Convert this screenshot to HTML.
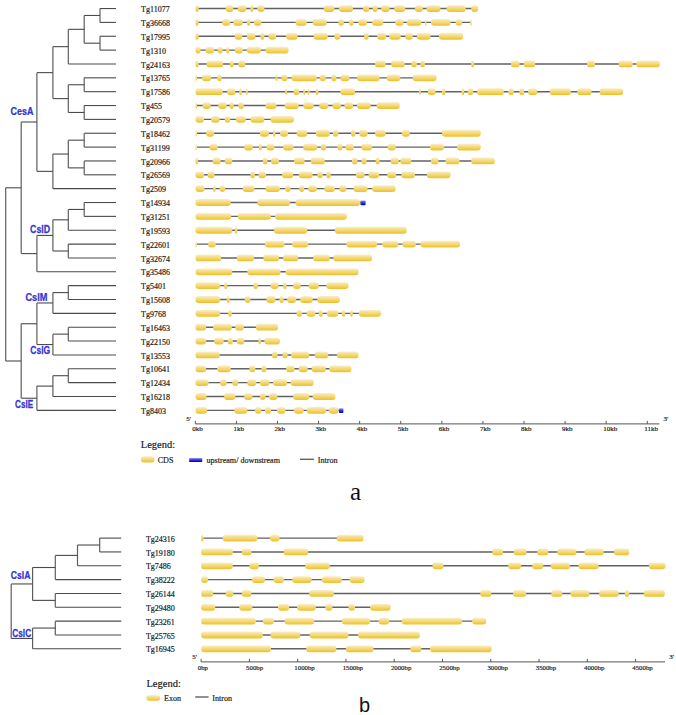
<!DOCTYPE html>
<html><head><meta charset="utf-8"><title>Gene structure</title>
<style>
html,body{margin:0;padding:0;background:#fff;}
body{width:676px;height:715px;overflow:hidden;position:relative;}
svg{position:absolute;left:0;top:0;}
.in{stroke:#626262;stroke-width:1.4;}
.th{stroke:#4a4a4a;stroke-width:1.1;}
.tv{stroke:#5e5e5e;stroke-width:1.2;}
.ax{stroke:#555;stroke-width:1;}
text{font-family:"Liberation Serif",serif;fill:#1a1a1a;stroke:#1a1a1a;stroke-width:0.18px;}
.lab{font-size:8px;}
.tick{font-size:7px;}
.tickb{font-size:6.8px;}
.prime{font-size:7px;}
.leg{font-size:10.5px;fill:#222;}
.legi{font-size:8.1px;}
.clade{font-family:"Liberation Sans",sans-serif;font-weight:bold;font-size:10.2px;fill:#3434d4;stroke:#3434d4;stroke-width:0.25px;}
.panel{font-size:25px;fill:#111;stroke:none;}
.panelb{font-family:"Liberation Sans",sans-serif;font-size:20px;fill:#111;stroke:none;}
</style></head>
<body>
<svg width="676" height="715" viewBox="0 0 676 715">
<defs>
<linearGradient id="ex" x1="0" y1="0" x2="0" y2="1">
<stop offset="0" stop-color="#fbefcb"/>
<stop offset="0.3" stop-color="#f5e096"/>
<stop offset="0.55" stop-color="#f4d770"/>
<stop offset="0.8" stop-color="#f1c940"/>
<stop offset="1" stop-color="#eec22a"/>
</linearGradient>
<linearGradient id="bl" x1="0" y1="0" x2="0" y2="1">
<stop offset="0" stop-color="#9a9af5"/>
<stop offset="0.5" stop-color="#3030dd"/>
<stop offset="1" stop-color="#0000b8"/>
</linearGradient>
</defs>
<line x1="100" y1="8.55" x2="116" y2="8.55" class="th"/>
<line x1="100" y1="22.41" x2="116" y2="22.41" class="th"/>
<line x1="100" y1="8.55" x2="100" y2="22.41" class="tv"/>
<line x1="84.2" y1="15.48" x2="100" y2="15.48" class="th"/>
<line x1="100" y1="36.26" x2="116" y2="36.26" class="th"/>
<line x1="100" y1="50.11" x2="116" y2="50.11" class="th"/>
<line x1="100" y1="36.26" x2="100" y2="50.11" class="tv"/>
<line x1="84.2" y1="43.19" x2="100" y2="43.19" class="th"/>
<line x1="84.2" y1="15.48" x2="84.2" y2="43.19" class="tv"/>
<line x1="68.3" y1="29.33" x2="84.2" y2="29.33" class="th"/>
<line x1="68.3" y1="63.97" x2="116" y2="63.97" class="th"/>
<line x1="68.3" y1="29.33" x2="68.3" y2="63.97" class="tv"/>
<line x1="52.9" y1="46.65" x2="68.3" y2="46.65" class="th"/>
<line x1="84.2" y1="77.83" x2="116" y2="77.83" class="th"/>
<line x1="84.2" y1="91.68" x2="116" y2="91.68" class="th"/>
<line x1="84.2" y1="77.83" x2="84.2" y2="91.68" class="tv"/>
<line x1="68.3" y1="84.75" x2="84.2" y2="84.75" class="th"/>
<line x1="84.2" y1="105.53" x2="116" y2="105.53" class="th"/>
<line x1="84.2" y1="119.39" x2="116" y2="119.39" class="th"/>
<line x1="84.2" y1="105.53" x2="84.2" y2="119.39" class="tv"/>
<line x1="68.3" y1="112.46" x2="84.2" y2="112.46" class="th"/>
<line x1="68.3" y1="84.75" x2="68.3" y2="112.46" class="tv"/>
<line x1="52.9" y1="98.61" x2="68.3" y2="98.61" class="th"/>
<line x1="52.9" y1="46.65" x2="52.9" y2="98.61" class="tv"/>
<line x1="36.9" y1="72.63" x2="52.9" y2="72.63" class="th"/>
<line x1="84.2" y1="133.25" x2="116" y2="133.25" class="th"/>
<line x1="84.2" y1="147.1" x2="116" y2="147.1" class="th"/>
<line x1="84.2" y1="133.25" x2="84.2" y2="147.1" class="tv"/>
<line x1="68.3" y1="140.17" x2="84.2" y2="140.17" class="th"/>
<line x1="84.2" y1="160.96" x2="116" y2="160.96" class="th"/>
<line x1="84.2" y1="174.81" x2="116" y2="174.81" class="th"/>
<line x1="84.2" y1="160.96" x2="84.2" y2="174.81" class="tv"/>
<line x1="68.3" y1="167.88" x2="84.2" y2="167.88" class="th"/>
<line x1="68.3" y1="140.17" x2="68.3" y2="167.88" class="tv"/>
<line x1="52.9" y1="154.03" x2="68.3" y2="154.03" class="th"/>
<line x1="52.9" y1="188.67" x2="116" y2="188.67" class="th"/>
<line x1="52.9" y1="154.03" x2="52.9" y2="188.67" class="tv"/>
<line x1="36.9" y1="171.35" x2="52.9" y2="171.35" class="th"/>
<line x1="36.9" y1="72.63" x2="36.9" y2="171.35" class="tv"/>
<line x1="21.2" y1="121.99" x2="36.9" y2="121.99" class="th"/>
<line x1="84.2" y1="202.52" x2="116" y2="202.52" class="th"/>
<line x1="84.2" y1="216.38" x2="116" y2="216.38" class="th"/>
<line x1="84.2" y1="202.52" x2="84.2" y2="216.38" class="tv"/>
<line x1="68.3" y1="209.45" x2="84.2" y2="209.45" class="th"/>
<line x1="68.3" y1="230.23" x2="116" y2="230.23" class="th"/>
<line x1="68.3" y1="209.45" x2="68.3" y2="230.23" class="tv"/>
<line x1="52.9" y1="219.84" x2="68.3" y2="219.84" class="th"/>
<line x1="68.3" y1="244.09" x2="116" y2="244.09" class="th"/>
<line x1="68.3" y1="257.94" x2="116" y2="257.94" class="th"/>
<line x1="68.3" y1="244.09" x2="68.3" y2="257.94" class="tv"/>
<line x1="52.9" y1="251.01" x2="68.3" y2="251.01" class="th"/>
<line x1="52.9" y1="219.84" x2="52.9" y2="251.01" class="tv"/>
<line x1="36.9" y1="235.43" x2="52.9" y2="235.43" class="th"/>
<line x1="36.9" y1="271.8" x2="116" y2="271.8" class="th"/>
<line x1="36.9" y1="235.43" x2="36.9" y2="271.8" class="tv"/>
<line x1="21.2" y1="253.61" x2="36.9" y2="253.61" class="th"/>
<line x1="21.2" y1="121.99" x2="21.2" y2="253.61" class="tv"/>
<line x1="5.7" y1="187.8" x2="21.2" y2="187.8" class="th"/>
<line x1="68.3" y1="285.65" x2="116" y2="285.65" class="th"/>
<line x1="68.3" y1="299.5" x2="116" y2="299.5" class="th"/>
<line x1="68.3" y1="285.65" x2="68.3" y2="299.5" class="tv"/>
<line x1="52.9" y1="292.58" x2="68.3" y2="292.58" class="th"/>
<line x1="52.9" y1="313.36" x2="116" y2="313.36" class="th"/>
<line x1="52.9" y1="292.58" x2="52.9" y2="313.36" class="tv"/>
<line x1="36.9" y1="302.97" x2="52.9" y2="302.97" class="th"/>
<line x1="68.3" y1="327.22" x2="116" y2="327.22" class="th"/>
<line x1="68.3" y1="341.07" x2="116" y2="341.07" class="th"/>
<line x1="68.3" y1="327.22" x2="68.3" y2="341.07" class="tv"/>
<line x1="52.9" y1="334.14" x2="68.3" y2="334.14" class="th"/>
<line x1="52.9" y1="354.93" x2="116" y2="354.93" class="th"/>
<line x1="52.9" y1="334.14" x2="52.9" y2="354.93" class="tv"/>
<line x1="36.9" y1="344.53" x2="52.9" y2="344.53" class="th"/>
<line x1="36.9" y1="302.97" x2="36.9" y2="344.53" class="tv"/>
<line x1="21.2" y1="323.75" x2="36.9" y2="323.75" class="th"/>
<line x1="68.3" y1="368.78" x2="116" y2="368.78" class="th"/>
<line x1="68.3" y1="382.64" x2="116" y2="382.64" class="th"/>
<line x1="68.3" y1="368.78" x2="68.3" y2="382.64" class="tv"/>
<line x1="52.9" y1="375.71" x2="68.3" y2="375.71" class="th"/>
<line x1="52.9" y1="396.49" x2="116" y2="396.49" class="th"/>
<line x1="52.9" y1="375.71" x2="52.9" y2="396.49" class="tv"/>
<line x1="36.9" y1="386.1" x2="52.9" y2="386.1" class="th"/>
<line x1="36.9" y1="410.35" x2="116" y2="410.35" class="th"/>
<line x1="36.9" y1="386.1" x2="36.9" y2="410.35" class="tv"/>
<line x1="21.2" y1="398.22" x2="36.9" y2="398.22" class="th"/>
<line x1="21.2" y1="323.75" x2="21.2" y2="398.22" class="tv"/>
<line x1="5.7" y1="360.99" x2="21.2" y2="360.99" class="th"/>
<line x1="5.7" y1="187.8" x2="5.7" y2="360.99" class="tv"/>
<line x1="99.7" y1="538.1" x2="121.2" y2="538.1" class="th"/>
<line x1="99.7" y1="551.94" x2="121.2" y2="551.94" class="th"/>
<line x1="99.7" y1="538.1" x2="99.7" y2="551.94" class="tv"/>
<line x1="77.5" y1="545.02" x2="99.7" y2="545.02" class="th"/>
<line x1="77.5" y1="565.78" x2="121.2" y2="565.78" class="th"/>
<line x1="77.5" y1="545.02" x2="77.5" y2="565.78" class="tv"/>
<line x1="55.3" y1="555.4" x2="77.5" y2="555.4" class="th"/>
<line x1="55.3" y1="579.62" x2="121.2" y2="579.62" class="th"/>
<line x1="55.3" y1="555.4" x2="55.3" y2="579.62" class="tv"/>
<line x1="32.6" y1="567.51" x2="55.3" y2="567.51" class="th"/>
<line x1="55.3" y1="593.46" x2="121.2" y2="593.46" class="th"/>
<line x1="55.3" y1="607.3" x2="121.2" y2="607.3" class="th"/>
<line x1="55.3" y1="593.46" x2="55.3" y2="607.3" class="tv"/>
<line x1="32.6" y1="600.38" x2="55.3" y2="600.38" class="th"/>
<line x1="32.6" y1="567.51" x2="32.6" y2="600.38" class="tv"/>
<line x1="11.2" y1="583.95" x2="32.6" y2="583.95" class="th"/>
<line x1="55.3" y1="621.14" x2="121.2" y2="621.14" class="th"/>
<line x1="55.3" y1="634.98" x2="121.2" y2="634.98" class="th"/>
<line x1="55.3" y1="621.14" x2="55.3" y2="634.98" class="tv"/>
<line x1="32.6" y1="628.06" x2="55.3" y2="628.06" class="th"/>
<line x1="32.6" y1="648.82" x2="121.2" y2="648.82" class="th"/>
<line x1="32.6" y1="628.06" x2="32.6" y2="648.82" class="tv"/>
<line x1="11.2" y1="638.44" x2="32.6" y2="638.44" class="th"/>
<line x1="11.2" y1="583.95" x2="11.2" y2="638.44" class="tv"/>
<line x1="197" y1="8.55" x2="476.7" y2="8.55" class="in"/>
<rect x="195.5" y="5.15" width="3.1" height="6.8" rx="1.55" ry="3.2" fill="url(#ex)"/>
<rect x="225.7" y="5.15" width="7.6" height="6.8" rx="3.2" ry="3.2" fill="url(#ex)"/>
<rect x="237.8" y="5.15" width="8.5" height="6.8" rx="3.2" ry="3.2" fill="url(#ex)"/>
<rect x="250.4" y="5.15" width="3" height="6.8" rx="1.5" ry="3.2" fill="url(#ex)"/>
<rect x="257.4" y="5.15" width="7" height="6.8" rx="3.2" ry="3.2" fill="url(#ex)"/>
<rect x="323.8" y="5.15" width="10.6" height="6.8" rx="3.2" ry="3.2" fill="url(#ex)"/>
<rect x="338.9" y="5.15" width="14.1" height="6.8" rx="3.2" ry="3.2" fill="url(#ex)"/>
<rect x="363" y="5.15" width="6.1" height="6.8" rx="3.05" ry="3.2" fill="url(#ex)"/>
<rect x="372.6" y="5.15" width="5" height="6.8" rx="2.5" ry="3.2" fill="url(#ex)"/>
<rect x="381.2" y="5.15" width="8.5" height="6.8" rx="3.2" ry="3.2" fill="url(#ex)"/>
<rect x="394.2" y="5.15" width="11.1" height="6.8" rx="3.2" ry="3.2" fill="url(#ex)"/>
<rect x="414.9" y="5.15" width="8" height="6.8" rx="3.2" ry="3.2" fill="url(#ex)"/>
<rect x="426.4" y="5.15" width="14.1" height="6.8" rx="3.2" ry="3.2" fill="url(#ex)"/>
<rect x="446.5" y="5.15" width="19.2" height="6.8" rx="3.2" ry="3.2" fill="url(#ex)"/>
<rect x="471.2" y="5.15" width="7" height="6.8" rx="3.2" ry="3.2" fill="url(#ex)"/>
<text x="141.1" y="12.15" class="lab">Tg11077</text>
<line x1="197" y1="22.41" x2="470.2" y2="22.41" class="in"/>
<rect x="195.5" y="19.01" width="3.1" height="6.8" rx="1.55" ry="3.2" fill="url(#ex)"/>
<rect x="222.2" y="19.01" width="8" height="6.8" rx="3.2" ry="3.2" fill="url(#ex)"/>
<rect x="233.3" y="19.01" width="9.5" height="6.8" rx="3.2" ry="3.2" fill="url(#ex)"/>
<rect x="246.8" y="19.01" width="3.6" height="6.8" rx="1.8" ry="3.2" fill="url(#ex)"/>
<rect x="253.9" y="19.01" width="7.5" height="6.8" rx="3.2" ry="3.2" fill="url(#ex)"/>
<rect x="295.6" y="19.01" width="11.1" height="6.8" rx="3.2" ry="3.2" fill="url(#ex)"/>
<rect x="312.7" y="19.01" width="14.1" height="6.8" rx="3.2" ry="3.2" fill="url(#ex)"/>
<rect x="338.4" y="19.01" width="5.5" height="6.8" rx="2.75" ry="3.2" fill="url(#ex)"/>
<rect x="349" y="19.01" width="4.5" height="6.8" rx="2.25" ry="3.2" fill="url(#ex)"/>
<rect x="358.3" y="19.01" width="8.8" height="6.8" rx="3.2" ry="3.2" fill="url(#ex)"/>
<rect x="372.1" y="19.01" width="11.1" height="6.8" rx="3.2" ry="3.2" fill="url(#ex)"/>
<rect x="395.2" y="19.01" width="8.1" height="6.8" rx="3.2" ry="3.2" fill="url(#ex)"/>
<rect x="406.8" y="19.01" width="14.6" height="6.8" rx="3.2" ry="3.2" fill="url(#ex)"/>
<rect x="424.9" y="19.01" width="1.5" height="6.8" rx="0.75" ry="3.2" fill="url(#ex)"/>
<rect x="431" y="19.01" width="19.6" height="6.8" rx="3.2" ry="3.2" fill="url(#ex)"/>
<rect x="455.6" y="19.01" width="6.5" height="6.8" rx="3.2" ry="3.2" fill="url(#ex)"/>
<rect x="470.2" y="19.01" width="1.5" height="6.8" rx="0.75" ry="3.2" fill="url(#ex)"/>
<text x="141.1" y="26.01" class="lab">Tg36668</text>
<line x1="197" y1="36.26" x2="461.6" y2="36.26" class="in"/>
<rect x="195.5" y="32.86" width="3.1" height="6.8" rx="1.55" ry="3.2" fill="url(#ex)"/>
<rect x="234.8" y="32.86" width="7.5" height="6.8" rx="3.2" ry="3.2" fill="url(#ex)"/>
<rect x="246.8" y="32.86" width="8.6" height="6.8" rx="3.2" ry="3.2" fill="url(#ex)"/>
<rect x="260.4" y="32.86" width="4" height="6.8" rx="2" ry="3.2" fill="url(#ex)"/>
<rect x="268.5" y="32.86" width="7.5" height="6.8" rx="3.2" ry="3.2" fill="url(#ex)"/>
<rect x="286.1" y="32.86" width="11.5" height="6.8" rx="3.2" ry="3.2" fill="url(#ex)"/>
<rect x="313.7" y="32.86" width="14.1" height="6.8" rx="3.2" ry="3.2" fill="url(#ex)"/>
<rect x="334.4" y="32.86" width="6" height="6.8" rx="3" ry="3.2" fill="url(#ex)"/>
<rect x="364.1" y="32.86" width="4.5" height="6.8" rx="2.25" ry="3.2" fill="url(#ex)"/>
<rect x="377.1" y="32.86" width="9.1" height="6.8" rx="3.2" ry="3.2" fill="url(#ex)"/>
<rect x="389.2" y="32.86" width="11.6" height="6.8" rx="3.2" ry="3.2" fill="url(#ex)"/>
<rect x="405.3" y="32.86" width="7.5" height="6.8" rx="3.2" ry="3.2" fill="url(#ex)"/>
<rect x="416.9" y="32.86" width="13.6" height="6.8" rx="3.2" ry="3.2" fill="url(#ex)"/>
<rect x="439" y="32.86" width="24.1" height="6.8" rx="3.2" ry="3.2" fill="url(#ex)"/>
<text x="141.1" y="39.86" class="lab">Tg17995</text>
<line x1="197" y1="50.11" x2="287.1" y2="50.11" class="in"/>
<rect x="195.5" y="46.71" width="5.1" height="6.8" rx="2.55" ry="3.2" fill="url(#ex)"/>
<rect x="205.6" y="46.71" width="8.5" height="6.8" rx="3.2" ry="3.2" fill="url(#ex)"/>
<rect x="217.7" y="46.71" width="5" height="6.8" rx="2.5" ry="3.2" fill="url(#ex)"/>
<rect x="226.2" y="46.71" width="3" height="6.8" rx="1.5" ry="3.2" fill="url(#ex)"/>
<rect x="234.8" y="46.71" width="8" height="6.8" rx="3.2" ry="3.2" fill="url(#ex)"/>
<rect x="246.8" y="46.71" width="14.1" height="6.8" rx="3.2" ry="3.2" fill="url(#ex)"/>
<rect x="265.5" y="46.71" width="23.1" height="6.8" rx="3.2" ry="3.2" fill="url(#ex)"/>
<text x="141.1" y="53.71" class="lab">Tg1310</text>
<line x1="197" y1="63.97" x2="658.4" y2="63.97" class="in"/>
<rect x="195.5" y="60.57" width="3.1" height="6.8" rx="1.55" ry="3.2" fill="url(#ex)"/>
<rect x="206.6" y="60.57" width="16.6" height="6.8" rx="3.2" ry="3.2" fill="url(#ex)"/>
<rect x="229.7" y="60.57" width="4.1" height="6.8" rx="2.05" ry="3.2" fill="url(#ex)"/>
<rect x="238.3" y="60.57" width="7" height="6.8" rx="3.2" ry="3.2" fill="url(#ex)"/>
<rect x="375.1" y="60.57" width="10.6" height="6.8" rx="3.2" ry="3.2" fill="url(#ex)"/>
<rect x="391.2" y="60.57" width="13.6" height="6.8" rx="3.2" ry="3.2" fill="url(#ex)"/>
<rect x="411.3" y="60.57" width="5.6" height="6.8" rx="2.8" ry="3.2" fill="url(#ex)"/>
<rect x="420.4" y="60.57" width="4.5" height="6.8" rx="2.25" ry="3.2" fill="url(#ex)"/>
<rect x="471.2" y="60.57" width="3" height="6.8" rx="1.5" ry="3.2" fill="url(#ex)"/>
<rect x="511" y="60.57" width="8.6" height="6.8" rx="3.2" ry="3.2" fill="url(#ex)"/>
<rect x="523.6" y="60.57" width="11.6" height="6.8" rx="3.2" ry="3.2" fill="url(#ex)"/>
<rect x="587" y="60.57" width="8" height="6.8" rx="3.2" ry="3.2" fill="url(#ex)"/>
<rect x="618.7" y="60.57" width="14.1" height="6.8" rx="3.2" ry="3.2" fill="url(#ex)"/>
<rect x="636.3" y="60.57" width="23.6" height="6.8" rx="3.2" ry="3.2" fill="url(#ex)"/>
<text x="141.1" y="67.57" class="lab">Tg24163</text>
<line x1="197" y1="77.83" x2="435" y2="77.83" class="in"/>
<rect x="195.5" y="74.42" width="1.5" height="6.8" rx="0.75" ry="3.2" fill="url(#ex)"/>
<rect x="202.1" y="74.42" width="9" height="6.8" rx="3.2" ry="3.2" fill="url(#ex)"/>
<rect x="217.2" y="74.42" width="4.5" height="6.8" rx="2.25" ry="3.2" fill="url(#ex)"/>
<rect x="275.5" y="74.42" width="2" height="6.8" rx="1" ry="3.2" fill="url(#ex)"/>
<rect x="281.5" y="74.42" width="6.1" height="6.8" rx="3.05" ry="3.2" fill="url(#ex)"/>
<rect x="291.6" y="74.42" width="25.2" height="6.8" rx="3.2" ry="3.2" fill="url(#ex)"/>
<rect x="319.8" y="74.42" width="6" height="6.8" rx="3" ry="3.2" fill="url(#ex)"/>
<rect x="331.3" y="74.42" width="5.1" height="6.8" rx="2.55" ry="3.2" fill="url(#ex)"/>
<rect x="340.4" y="74.42" width="9.1" height="6.8" rx="3.2" ry="3.2" fill="url(#ex)"/>
<rect x="357" y="74.42" width="22.6" height="6.8" rx="3.2" ry="3.2" fill="url(#ex)"/>
<rect x="386.7" y="74.42" width="13.6" height="6.8" rx="3.2" ry="3.2" fill="url(#ex)"/>
<rect x="412.8" y="74.42" width="23.7" height="6.8" rx="3.2" ry="3.2" fill="url(#ex)"/>
<text x="141.1" y="81.42" class="lab">Tg13765</text>
<line x1="197" y1="91.68" x2="621.7" y2="91.68" class="in"/>
<rect x="195.5" y="88.28" width="27.2" height="6.8" rx="3.2" ry="3.2" fill="url(#ex)"/>
<rect x="227.2" y="88.28" width="8.1" height="6.8" rx="3.2" ry="3.2" fill="url(#ex)"/>
<rect x="239.3" y="88.28" width="2.5" height="6.8" rx="1.25" ry="3.2" fill="url(#ex)"/>
<rect x="245.8" y="88.28" width="2" height="6.8" rx="1" ry="3.2" fill="url(#ex)"/>
<rect x="285.1" y="88.28" width="2" height="6.8" rx="1" ry="3.2" fill="url(#ex)"/>
<rect x="293.6" y="88.28" width="5.6" height="6.8" rx="2.8" ry="3.2" fill="url(#ex)"/>
<rect x="303.2" y="88.28" width="2" height="6.8" rx="1" ry="3.2" fill="url(#ex)"/>
<rect x="307.7" y="88.28" width="2" height="6.8" rx="1" ry="3.2" fill="url(#ex)"/>
<rect x="315.8" y="88.28" width="2.5" height="6.8" rx="1.25" ry="3.2" fill="url(#ex)"/>
<rect x="340.4" y="88.28" width="14.6" height="6.8" rx="3.2" ry="3.2" fill="url(#ex)"/>
<rect x="418.9" y="88.28" width="2" height="6.8" rx="1" ry="3.2" fill="url(#ex)"/>
<rect x="427.9" y="88.28" width="7.6" height="6.8" rx="3.2" ry="3.2" fill="url(#ex)"/>
<rect x="442" y="88.28" width="3.5" height="6.8" rx="1.75" ry="3.2" fill="url(#ex)"/>
<rect x="461.6" y="88.28" width="2.6" height="6.8" rx="1.3" ry="3.2" fill="url(#ex)"/>
<rect x="467.7" y="88.28" width="5.5" height="6.8" rx="2.75" ry="3.2" fill="url(#ex)"/>
<rect x="477.2" y="88.28" width="26.7" height="6.8" rx="3.2" ry="3.2" fill="url(#ex)"/>
<rect x="508.2" y="88.28" width="5.6" height="6.8" rx="2.8" ry="3.2" fill="url(#ex)"/>
<rect x="519.3" y="88.28" width="4.8" height="6.8" rx="2.4" ry="3.2" fill="url(#ex)"/>
<rect x="528.1" y="88.28" width="9.1" height="6.8" rx="3.2" ry="3.2" fill="url(#ex)"/>
<rect x="549.8" y="88.28" width="21.1" height="6.8" rx="3.2" ry="3.2" fill="url(#ex)"/>
<rect x="577.4" y="88.28" width="14.1" height="6.8" rx="3.2" ry="3.2" fill="url(#ex)"/>
<rect x="599.6" y="88.28" width="23.6" height="6.8" rx="3.2" ry="3.2" fill="url(#ex)"/>
<text x="141.1" y="95.28" class="lab">Tg17586</text>
<line x1="197" y1="105.53" x2="398.3" y2="105.53" class="in"/>
<rect x="195.5" y="102.13" width="1.5" height="6.8" rx="0.75" ry="3.2" fill="url(#ex)"/>
<rect x="202.6" y="102.13" width="8" height="6.8" rx="3.2" ry="3.2" fill="url(#ex)"/>
<rect x="218.2" y="102.13" width="8.5" height="6.8" rx="3.2" ry="3.2" fill="url(#ex)"/>
<rect x="229.7" y="102.13" width="4.1" height="6.8" rx="2.05" ry="3.2" fill="url(#ex)"/>
<rect x="238.3" y="102.13" width="5.5" height="6.8" rx="2.75" ry="3.2" fill="url(#ex)"/>
<rect x="265.5" y="102.13" width="11" height="6.8" rx="3.2" ry="3.2" fill="url(#ex)"/>
<rect x="284.6" y="102.13" width="14.1" height="6.8" rx="3.2" ry="3.2" fill="url(#ex)"/>
<rect x="303.2" y="102.13" width="10.5" height="6.8" rx="3.2" ry="3.2" fill="url(#ex)"/>
<rect x="319.3" y="102.13" width="9" height="6.8" rx="3.2" ry="3.2" fill="url(#ex)"/>
<rect x="332.4" y="102.13" width="8.5" height="6.8" rx="3.2" ry="3.2" fill="url(#ex)"/>
<rect x="344.4" y="102.13" width="8.6" height="6.8" rx="3.2" ry="3.2" fill="url(#ex)"/>
<rect x="357" y="102.13" width="13.6" height="6.8" rx="3.2" ry="3.2" fill="url(#ex)"/>
<rect x="376.6" y="102.13" width="23.2" height="6.8" rx="3.2" ry="3.2" fill="url(#ex)"/>
<text x="141.1" y="109.13" class="lab">Tg455</text>
<line x1="197" y1="119.39" x2="292.6" y2="119.39" class="in"/>
<rect x="195.5" y="115.99" width="8.6" height="6.8" rx="3.2" ry="3.2" fill="url(#ex)"/>
<rect x="211.1" y="115.99" width="8.6" height="6.8" rx="3.2" ry="3.2" fill="url(#ex)"/>
<rect x="224.7" y="115.99" width="5.5" height="6.8" rx="2.75" ry="3.2" fill="url(#ex)"/>
<rect x="235.8" y="115.99" width="10" height="6.8" rx="3.2" ry="3.2" fill="url(#ex)"/>
<rect x="250.4" y="115.99" width="14" height="6.8" rx="3.2" ry="3.2" fill="url(#ex)"/>
<rect x="270.5" y="115.99" width="23.6" height="6.8" rx="3.2" ry="3.2" fill="url(#ex)"/>
<text x="141.1" y="122.99" class="lab">Tg20579</text>
<line x1="197" y1="133.25" x2="479.3" y2="133.25" class="in"/>
<rect x="195.5" y="129.84" width="1.2" height="6.8" rx="0.6" ry="3.2" fill="url(#ex)"/>
<rect x="206.1" y="129.84" width="8" height="6.8" rx="3.2" ry="3.2" fill="url(#ex)"/>
<rect x="259.9" y="129.84" width="9.1" height="6.8" rx="3.2" ry="3.2" fill="url(#ex)"/>
<rect x="273" y="129.84" width="2.5" height="6.8" rx="1.25" ry="3.2" fill="url(#ex)"/>
<rect x="280" y="129.84" width="8.1" height="6.8" rx="3.2" ry="3.2" fill="url(#ex)"/>
<rect x="296.6" y="129.84" width="10.6" height="6.8" rx="3.2" ry="3.2" fill="url(#ex)"/>
<rect x="315.8" y="129.84" width="14" height="6.8" rx="3.2" ry="3.2" fill="url(#ex)"/>
<rect x="332.9" y="129.84" width="5.5" height="6.8" rx="2.75" ry="3.2" fill="url(#ex)"/>
<rect x="351" y="129.84" width="4.5" height="6.8" rx="2.25" ry="3.2" fill="url(#ex)"/>
<rect x="359.2" y="129.84" width="8.4" height="6.8" rx="3.2" ry="3.2" fill="url(#ex)"/>
<rect x="375.1" y="129.84" width="10.6" height="6.8" rx="3.2" ry="3.2" fill="url(#ex)"/>
<rect x="401.8" y="129.84" width="8" height="6.8" rx="3.2" ry="3.2" fill="url(#ex)"/>
<rect x="442" y="129.84" width="38.8" height="6.8" rx="3.2" ry="3.2" fill="url(#ex)"/>
<text x="141.1" y="136.84" class="lab">Tg18462</text>
<line x1="197" y1="147.1" x2="479.3" y2="147.1" class="in"/>
<rect x="195.5" y="143.7" width="1.2" height="6.8" rx="0.6" ry="3.2" fill="url(#ex)"/>
<rect x="209.6" y="143.7" width="8.1" height="6.8" rx="3.2" ry="3.2" fill="url(#ex)"/>
<rect x="244.3" y="143.7" width="8.6" height="6.8" rx="3.2" ry="3.2" fill="url(#ex)"/>
<rect x="258.9" y="143.7" width="3" height="6.8" rx="1.5" ry="3.2" fill="url(#ex)"/>
<rect x="266.5" y="143.7" width="8" height="6.8" rx="3.2" ry="3.2" fill="url(#ex)"/>
<rect x="283.1" y="143.7" width="10.5" height="6.8" rx="3.2" ry="3.2" fill="url(#ex)"/>
<rect x="303.2" y="143.7" width="14.1" height="6.8" rx="3.2" ry="3.2" fill="url(#ex)"/>
<rect x="320.8" y="143.7" width="5.5" height="6.8" rx="2.75" ry="3.2" fill="url(#ex)"/>
<rect x="337.4" y="143.7" width="5" height="6.8" rx="2.5" ry="3.2" fill="url(#ex)"/>
<rect x="345.4" y="143.7" width="8.6" height="6.8" rx="3.2" ry="3.2" fill="url(#ex)"/>
<rect x="361.5" y="143.7" width="10.6" height="6.8" rx="3.2" ry="3.2" fill="url(#ex)"/>
<rect x="387.7" y="143.7" width="8" height="6.8" rx="3.2" ry="3.2" fill="url(#ex)"/>
<rect x="430" y="143.7" width="14" height="6.8" rx="3.2" ry="3.2" fill="url(#ex)"/>
<rect x="457.1" y="143.7" width="23.7" height="6.8" rx="3.2" ry="3.2" fill="url(#ex)"/>
<text x="141.1" y="150.7" class="lab">Tg31199</text>
<line x1="197" y1="160.96" x2="493.3" y2="160.96" class="in"/>
<rect x="195.5" y="157.56" width="2.5" height="6.8" rx="1.25" ry="3.2" fill="url(#ex)"/>
<rect x="212.6" y="157.56" width="8.1" height="6.8" rx="3.2" ry="3.2" fill="url(#ex)"/>
<rect x="224.7" y="157.56" width="7.6" height="6.8" rx="3.2" ry="3.2" fill="url(#ex)"/>
<rect x="262.9" y="157.56" width="4.6" height="6.8" rx="2.3" ry="3.2" fill="url(#ex)"/>
<rect x="271" y="157.56" width="8" height="6.8" rx="3.2" ry="3.2" fill="url(#ex)"/>
<rect x="294.1" y="157.56" width="10.6" height="6.8" rx="3.2" ry="3.2" fill="url(#ex)"/>
<rect x="310.7" y="157.56" width="14.1" height="6.8" rx="3.2" ry="3.2" fill="url(#ex)"/>
<rect x="352" y="157.56" width="5.5" height="6.8" rx="2.75" ry="3.2" fill="url(#ex)"/>
<rect x="361.5" y="157.56" width="5.1" height="6.8" rx="2.55" ry="3.2" fill="url(#ex)"/>
<rect x="375.6" y="157.56" width="4" height="6.8" rx="2" ry="3.2" fill="url(#ex)"/>
<rect x="390.7" y="157.56" width="8.1" height="6.8" rx="3.2" ry="3.2" fill="url(#ex)"/>
<rect x="400.3" y="157.56" width="11" height="6.8" rx="3.2" ry="3.2" fill="url(#ex)"/>
<rect x="431" y="157.56" width="7.5" height="6.8" rx="3.2" ry="3.2" fill="url(#ex)"/>
<rect x="445.5" y="157.56" width="14.1" height="6.8" rx="3.2" ry="3.2" fill="url(#ex)"/>
<rect x="471.2" y="157.56" width="23.6" height="6.8" rx="3.2" ry="3.2" fill="url(#ex)"/>
<text x="141.1" y="164.56" class="lab">Tg20966</text>
<line x1="197" y1="174.81" x2="449.1" y2="174.81" class="in"/>
<rect x="195.5" y="171.41" width="8.6" height="6.8" rx="3.2" ry="3.2" fill="url(#ex)"/>
<rect x="207.6" y="171.41" width="7" height="6.8" rx="3.2" ry="3.2" fill="url(#ex)"/>
<rect x="250.4" y="171.41" width="4.5" height="6.8" rx="2.25" ry="3.2" fill="url(#ex)"/>
<rect x="258.4" y="171.41" width="7.6" height="6.8" rx="3.2" ry="3.2" fill="url(#ex)"/>
<rect x="282.1" y="171.41" width="11" height="6.8" rx="3.2" ry="3.2" fill="url(#ex)"/>
<rect x="298.7" y="171.41" width="14" height="6.8" rx="3.2" ry="3.2" fill="url(#ex)"/>
<rect x="317.3" y="171.41" width="5.5" height="6.8" rx="2.75" ry="3.2" fill="url(#ex)"/>
<rect x="326.3" y="171.41" width="4.5" height="6.8" rx="2.25" ry="3.2" fill="url(#ex)"/>
<rect x="356" y="171.41" width="8.6" height="6.8" rx="3.2" ry="3.2" fill="url(#ex)"/>
<rect x="368.6" y="171.41" width="10.5" height="6.8" rx="3.2" ry="3.2" fill="url(#ex)"/>
<rect x="387.2" y="171.41" width="9" height="6.8" rx="3.2" ry="3.2" fill="url(#ex)"/>
<rect x="401.3" y="171.41" width="13.6" height="6.8" rx="3.2" ry="3.2" fill="url(#ex)"/>
<rect x="426.9" y="171.41" width="23.7" height="6.8" rx="3.2" ry="3.2" fill="url(#ex)"/>
<text x="141.1" y="178.41" class="lab">Tg26569</text>
<line x1="197" y1="188.67" x2="394.2" y2="188.67" class="in"/>
<rect x="195.5" y="185.27" width="9.1" height="6.8" rx="3.2" ry="3.2" fill="url(#ex)"/>
<rect x="213.1" y="185.27" width="2.6" height="6.8" rx="1.3" ry="3.2" fill="url(#ex)"/>
<rect x="219.7" y="185.27" width="5.5" height="6.8" rx="2.75" ry="3.2" fill="url(#ex)"/>
<rect x="242.8" y="185.27" width="11.6" height="6.8" rx="3.2" ry="3.2" fill="url(#ex)"/>
<rect x="265.5" y="185.27" width="14.5" height="6.8" rx="3.2" ry="3.2" fill="url(#ex)"/>
<rect x="285.1" y="185.27" width="5.5" height="6.8" rx="2.75" ry="3.2" fill="url(#ex)"/>
<rect x="299.2" y="185.27" width="5" height="6.8" rx="2.5" ry="3.2" fill="url(#ex)"/>
<rect x="308.2" y="185.27" width="8.6" height="6.8" rx="3.2" ry="3.2" fill="url(#ex)"/>
<rect x="324.3" y="185.27" width="10.6" height="6.8" rx="3.2" ry="3.2" fill="url(#ex)"/>
<rect x="339.4" y="185.27" width="7" height="6.8" rx="3.2" ry="3.2" fill="url(#ex)"/>
<rect x="353.5" y="185.27" width="14.1" height="6.8" rx="3.2" ry="3.2" fill="url(#ex)"/>
<rect x="372.1" y="185.27" width="23.6" height="6.8" rx="3.2" ry="3.2" fill="url(#ex)"/>
<text x="141.1" y="192.27" class="lab">Tg2509</text>
<line x1="197" y1="202.52" x2="360.5" y2="202.52" class="in"/>
<rect x="195.5" y="199.12" width="35.2" height="6.8" rx="3.2" ry="3.2" fill="url(#ex)"/>
<rect x="257.4" y="199.12" width="32.7" height="6.8" rx="3.2" ry="3.2" fill="url(#ex)"/>
<rect x="295.6" y="199.12" width="64.4" height="6.8" rx="3.2" ry="3.2" fill="url(#ex)"/>
<rect x="360.5" y="200.42" width="5.1" height="4.8" rx="0.8" fill="url(#bl)"/>
<text x="141.1" y="206.12" class="lab">Tg14934</text>
<line x1="197" y1="216.38" x2="345.4" y2="216.38" class="in"/>
<rect x="195.5" y="212.98" width="35.7" height="6.8" rx="3.2" ry="3.2" fill="url(#ex)"/>
<rect x="237.8" y="212.98" width="33.2" height="6.8" rx="3.2" ry="3.2" fill="url(#ex)"/>
<rect x="275" y="212.98" width="71.9" height="6.8" rx="3.2" ry="3.2" fill="url(#ex)"/>
<text x="141.1" y="219.98" class="lab">Tg31251</text>
<line x1="197" y1="230.23" x2="405.3" y2="230.23" class="in"/>
<rect x="195.5" y="226.83" width="36.8" height="6.8" rx="3.2" ry="3.2" fill="url(#ex)"/>
<rect x="234.8" y="226.83" width="2.5" height="6.8" rx="1.25" ry="3.2" fill="url(#ex)"/>
<rect x="274" y="226.83" width="33.2" height="6.8" rx="3.2" ry="3.2" fill="url(#ex)"/>
<rect x="334.9" y="226.83" width="71.9" height="6.8" rx="3.2" ry="3.2" fill="url(#ex)"/>
<text x="141.1" y="233.83" class="lab">Tg19593</text>
<line x1="197" y1="244.09" x2="458.6" y2="244.09" class="in"/>
<rect x="195.5" y="240.69" width="1.2" height="6.8" rx="0.6" ry="3.2" fill="url(#ex)"/>
<rect x="208.1" y="240.69" width="7.6" height="6.8" rx="3.2" ry="3.2" fill="url(#ex)"/>
<rect x="265" y="240.69" width="19.6" height="6.8" rx="3.2" ry="3.2" fill="url(#ex)"/>
<rect x="292.1" y="240.69" width="16.1" height="6.8" rx="3.2" ry="3.2" fill="url(#ex)"/>
<rect x="346.4" y="240.69" width="30.7" height="6.8" rx="3.2" ry="3.2" fill="url(#ex)"/>
<rect x="382.2" y="240.69" width="16.1" height="6.8" rx="3.2" ry="3.2" fill="url(#ex)"/>
<rect x="402.3" y="240.69" width="13.6" height="6.8" rx="3.2" ry="3.2" fill="url(#ex)"/>
<rect x="420.4" y="240.69" width="39.7" height="6.8" rx="3.2" ry="3.2" fill="url(#ex)"/>
<text x="141.1" y="247.69" class="lab">Tg22601</text>
<line x1="197" y1="257.94" x2="370.6" y2="257.94" class="in"/>
<rect x="195.5" y="254.54" width="25.7" height="6.8" rx="3.2" ry="3.2" fill="url(#ex)"/>
<rect x="236.8" y="254.54" width="17.1" height="6.8" rx="3.2" ry="3.2" fill="url(#ex)"/>
<rect x="263.4" y="254.54" width="15.6" height="6.8" rx="3.2" ry="3.2" fill="url(#ex)"/>
<rect x="283.1" y="254.54" width="15.1" height="6.8" rx="3.2" ry="3.2" fill="url(#ex)"/>
<rect x="313.2" y="254.54" width="16.6" height="6.8" rx="3.2" ry="3.2" fill="url(#ex)"/>
<rect x="333.4" y="254.54" width="38.7" height="6.8" rx="3.2" ry="3.2" fill="url(#ex)"/>
<text x="141.1" y="261.54" class="lab">Tg32674</text>
<line x1="197" y1="271.8" x2="357.1" y2="271.8" class="in"/>
<rect x="195.5" y="268.4" width="36.8" height="6.8" rx="3.2" ry="3.2" fill="url(#ex)"/>
<rect x="247.3" y="268.4" width="33.2" height="6.8" rx="3.2" ry="3.2" fill="url(#ex)"/>
<rect x="285.6" y="268.4" width="73" height="6.8" rx="3.2" ry="3.2" fill="url(#ex)"/>
<text x="141.1" y="275.4" class="lab">Tg35486</text>
<line x1="197" y1="285.65" x2="347" y2="285.65" class="in"/>
<rect x="195.5" y="282.25" width="24.7" height="6.8" rx="3.2" ry="3.2" fill="url(#ex)"/>
<rect x="224.2" y="282.25" width="3" height="6.8" rx="1.5" ry="3.2" fill="url(#ex)"/>
<rect x="253.4" y="282.25" width="4.5" height="6.8" rx="2.25" ry="3.2" fill="url(#ex)"/>
<rect x="270.5" y="282.25" width="8" height="6.8" rx="3.2" ry="3.2" fill="url(#ex)"/>
<rect x="283.1" y="282.25" width="3.5" height="6.8" rx="1.75" ry="3.2" fill="url(#ex)"/>
<rect x="293.1" y="282.25" width="7.6" height="6.8" rx="3.2" ry="3.2" fill="url(#ex)"/>
<rect x="308.7" y="282.25" width="10.1" height="6.8" rx="3.2" ry="3.2" fill="url(#ex)"/>
<rect x="326.3" y="282.25" width="22.2" height="6.8" rx="3.2" ry="3.2" fill="url(#ex)"/>
<text x="141.1" y="289.25" class="lab">Tg5401</text>
<line x1="197" y1="299.5" x2="338.4" y2="299.5" class="in"/>
<rect x="195.5" y="296.11" width="24.7" height="6.8" rx="3.2" ry="3.2" fill="url(#ex)"/>
<rect x="226.7" y="296.11" width="3" height="6.8" rx="1.5" ry="3.2" fill="url(#ex)"/>
<rect x="244.8" y="296.11" width="5.6" height="6.8" rx="2.8" ry="3.2" fill="url(#ex)"/>
<rect x="266.5" y="296.11" width="9" height="6.8" rx="3.2" ry="3.2" fill="url(#ex)"/>
<rect x="279.5" y="296.11" width="4.1" height="6.8" rx="2.05" ry="3.2" fill="url(#ex)"/>
<rect x="287.1" y="296.11" width="9" height="6.8" rx="3.2" ry="3.2" fill="url(#ex)"/>
<rect x="300.2" y="296.11" width="12.5" height="6.8" rx="3.2" ry="3.2" fill="url(#ex)"/>
<rect x="317.3" y="296.11" width="22.6" height="6.8" rx="3.2" ry="3.2" fill="url(#ex)"/>
<text x="141.1" y="303.11" class="lab">Tg15608</text>
<line x1="197" y1="313.36" x2="379.5" y2="313.36" class="in"/>
<rect x="195.5" y="309.96" width="24.7" height="6.8" rx="3.2" ry="3.2" fill="url(#ex)"/>
<rect x="228.2" y="309.96" width="3.6" height="6.8" rx="1.8" ry="3.2" fill="url(#ex)"/>
<rect x="296.6" y="309.96" width="5.6" height="6.8" rx="2.8" ry="3.2" fill="url(#ex)"/>
<rect x="306.7" y="309.96" width="8.6" height="6.8" rx="3.2" ry="3.2" fill="url(#ex)"/>
<rect x="318.8" y="309.96" width="4" height="6.8" rx="2" ry="3.2" fill="url(#ex)"/>
<rect x="326.8" y="309.96" width="11.6" height="6.8" rx="3.2" ry="3.2" fill="url(#ex)"/>
<rect x="341.8" y="309.96" width="3.4" height="6.8" rx="1.7" ry="3.2" fill="url(#ex)"/>
<rect x="350.1" y="309.96" width="2.7" height="6.8" rx="1.35" ry="3.2" fill="url(#ex)"/>
<rect x="358.9" y="309.96" width="22.1" height="6.8" rx="3.2" ry="3.2" fill="url(#ex)"/>
<text x="141.1" y="316.96" class="lab">Tg9768</text>
<line x1="197" y1="327.22" x2="276.5" y2="327.22" class="in"/>
<rect x="195.5" y="323.82" width="10.6" height="6.8" rx="3.2" ry="3.2" fill="url(#ex)"/>
<rect x="213.1" y="323.82" width="18.7" height="6.8" rx="3.2" ry="3.2" fill="url(#ex)"/>
<rect x="235.3" y="323.82" width="8.5" height="6.8" rx="3.2" ry="3.2" fill="url(#ex)"/>
<rect x="255.9" y="323.82" width="22.1" height="6.8" rx="3.2" ry="3.2" fill="url(#ex)"/>
<text x="141.1" y="330.82" class="lab">Tg16463</text>
<line x1="197" y1="341.07" x2="278.5" y2="341.07" class="in"/>
<rect x="195.5" y="337.67" width="10.6" height="6.8" rx="3.2" ry="3.2" fill="url(#ex)"/>
<rect x="214.1" y="337.67" width="9.6" height="6.8" rx="3.2" ry="3.2" fill="url(#ex)"/>
<rect x="227.7" y="337.67" width="5.1" height="6.8" rx="2.55" ry="3.2" fill="url(#ex)"/>
<rect x="236.8" y="337.67" width="7.5" height="6.8" rx="3.2" ry="3.2" fill="url(#ex)"/>
<rect x="258.4" y="337.67" width="2.5" height="6.8" rx="1.25" ry="3.2" fill="url(#ex)"/>
<rect x="264.4" y="337.67" width="15.6" height="6.8" rx="3.2" ry="3.2" fill="url(#ex)"/>
<text x="141.1" y="344.67" class="lab">Tg22150</text>
<line x1="197" y1="354.93" x2="357" y2="354.93" class="in"/>
<rect x="195.5" y="351.53" width="24.2" height="6.8" rx="3.2" ry="3.2" fill="url(#ex)"/>
<rect x="272" y="351.53" width="5.5" height="6.8" rx="2.75" ry="3.2" fill="url(#ex)"/>
<rect x="282.6" y="351.53" width="5" height="6.8" rx="2.5" ry="3.2" fill="url(#ex)"/>
<rect x="291.1" y="351.53" width="18.1" height="6.8" rx="3.2" ry="3.2" fill="url(#ex)"/>
<rect x="314.7" y="351.53" width="13.6" height="6.8" rx="3.2" ry="3.2" fill="url(#ex)"/>
<rect x="336.9" y="351.53" width="21.6" height="6.8" rx="3.2" ry="3.2" fill="url(#ex)"/>
<text x="141.1" y="358.53" class="lab">Tg13553</text>
<line x1="197" y1="368.78" x2="350" y2="368.78" class="in"/>
<rect x="195.5" y="365.38" width="10.6" height="6.8" rx="3.2" ry="3.2" fill="url(#ex)"/>
<rect x="217.2" y="365.38" width="13.5" height="6.8" rx="3.2" ry="3.2" fill="url(#ex)"/>
<rect x="249.4" y="365.38" width="6" height="6.8" rx="3" ry="3.2" fill="url(#ex)"/>
<rect x="261.4" y="365.38" width="5.1" height="6.8" rx="2.55" ry="3.2" fill="url(#ex)"/>
<rect x="286.1" y="365.38" width="8.5" height="6.8" rx="3.2" ry="3.2" fill="url(#ex)"/>
<rect x="298.7" y="365.38" width="9" height="6.8" rx="3.2" ry="3.2" fill="url(#ex)"/>
<rect x="311.7" y="365.38" width="14.1" height="6.8" rx="3.2" ry="3.2" fill="url(#ex)"/>
<rect x="329.3" y="365.38" width="22.2" height="6.8" rx="3.2" ry="3.2" fill="url(#ex)"/>
<text x="141.1" y="372.38" class="lab">Tg10641</text>
<line x1="197" y1="382.64" x2="312.2" y2="382.64" class="in"/>
<rect x="195.5" y="379.24" width="13.1" height="6.8" rx="3.2" ry="3.2" fill="url(#ex)"/>
<rect x="220.2" y="379.24" width="6.5" height="6.8" rx="3.2" ry="3.2" fill="url(#ex)"/>
<rect x="232.3" y="379.24" width="6" height="6.8" rx="3" ry="3.2" fill="url(#ex)"/>
<rect x="247.3" y="379.24" width="9.1" height="6.8" rx="3.2" ry="3.2" fill="url(#ex)"/>
<rect x="259.9" y="379.24" width="9.6" height="6.8" rx="3.2" ry="3.2" fill="url(#ex)"/>
<rect x="273" y="379.24" width="14.1" height="6.8" rx="3.2" ry="3.2" fill="url(#ex)"/>
<rect x="290.6" y="379.24" width="23.1" height="6.8" rx="3.2" ry="3.2" fill="url(#ex)"/>
<text x="141.1" y="386.24" class="lab">Tg12434</text>
<line x1="197" y1="396.49" x2="333.9" y2="396.49" class="in"/>
<rect x="195.5" y="393.09" width="11.1" height="6.8" rx="3.2" ry="3.2" fill="url(#ex)"/>
<rect x="224.2" y="393.09" width="11.1" height="6.8" rx="3.2" ry="3.2" fill="url(#ex)"/>
<rect x="244.3" y="393.09" width="8.1" height="6.8" rx="3.2" ry="3.2" fill="url(#ex)"/>
<rect x="259.9" y="393.09" width="5.6" height="6.8" rx="2.8" ry="3.2" fill="url(#ex)"/>
<rect x="269" y="393.09" width="8.5" height="6.8" rx="3.2" ry="3.2" fill="url(#ex)"/>
<rect x="293.1" y="393.09" width="16.1" height="6.8" rx="3.2" ry="3.2" fill="url(#ex)"/>
<rect x="312.7" y="393.09" width="22.7" height="6.8" rx="3.2" ry="3.2" fill="url(#ex)"/>
<text x="141.1" y="400.09" class="lab">Tg16218</text>
<line x1="197" y1="410.35" x2="338.9" y2="410.35" class="in"/>
<rect x="195.5" y="406.95" width="11.6" height="6.8" rx="3.2" ry="3.2" fill="url(#ex)"/>
<rect x="234.3" y="406.95" width="13" height="6.8" rx="3.2" ry="3.2" fill="url(#ex)"/>
<rect x="254.9" y="406.95" width="6.5" height="6.8" rx="3.2" ry="3.2" fill="url(#ex)"/>
<rect x="264.9" y="406.95" width="6.1" height="6.8" rx="3.05" ry="3.2" fill="url(#ex)"/>
<rect x="277" y="406.95" width="8.6" height="6.8" rx="3.2" ry="3.2" fill="url(#ex)"/>
<rect x="294.1" y="406.95" width="9.6" height="6.8" rx="3.2" ry="3.2" fill="url(#ex)"/>
<rect x="306.7" y="406.95" width="19.6" height="6.8" rx="3.2" ry="3.2" fill="url(#ex)"/>
<rect x="328.8" y="406.95" width="9.6" height="6.8" rx="3.2" ry="3.2" fill="url(#ex)"/>
<rect x="338.9" y="408.25" width="4.5" height="4.8" rx="0.8" fill="url(#bl)"/>
<text x="141.1" y="413.95" class="lab">Tg8403</text>
<line x1="202.6" y1="538.1" x2="362.1" y2="538.1" class="in"/>
<rect x="201.1" y="534.7" width="2.5" height="6.8" rx="1.25" ry="3.2" fill="url(#ex)"/>
<rect x="222.7" y="534.7" width="34.7" height="6.8" rx="3.2" ry="3.2" fill="url(#ex)"/>
<rect x="270" y="534.7" width="9.5" height="6.8" rx="3.2" ry="3.2" fill="url(#ex)"/>
<rect x="336.9" y="534.7" width="26.7" height="6.8" rx="3.2" ry="3.2" fill="url(#ex)"/>
<text x="145.9" y="541.7" class="lab">Tg24316</text>
<line x1="202.6" y1="551.94" x2="627.7" y2="551.94" class="in"/>
<rect x="201.1" y="548.54" width="31.7" height="6.8" rx="3.2" ry="3.2" fill="url(#ex)"/>
<rect x="241.8" y="548.54" width="9.6" height="6.8" rx="3.2" ry="3.2" fill="url(#ex)"/>
<rect x="283.6" y="548.54" width="24.6" height="6.8" rx="3.2" ry="3.2" fill="url(#ex)"/>
<rect x="492.3" y="548.54" width="10.6" height="6.8" rx="3.2" ry="3.2" fill="url(#ex)"/>
<rect x="513.8" y="548.54" width="12.8" height="6.8" rx="3.2" ry="3.2" fill="url(#ex)"/>
<rect x="537.2" y="548.54" width="11.1" height="6.8" rx="3.2" ry="3.2" fill="url(#ex)"/>
<rect x="557.3" y="548.54" width="19.1" height="6.8" rx="3.2" ry="3.2" fill="url(#ex)"/>
<rect x="584.5" y="548.54" width="19.1" height="6.8" rx="3.2" ry="3.2" fill="url(#ex)"/>
<rect x="614.1" y="548.54" width="15.1" height="6.8" rx="3.2" ry="3.2" fill="url(#ex)"/>
<text x="145.9" y="555.54" class="lab">Tg19180</text>
<line x1="202.6" y1="565.78" x2="664" y2="565.78" class="in"/>
<rect x="201.1" y="562.38" width="31.7" height="6.8" rx="3.2" ry="3.2" fill="url(#ex)"/>
<rect x="249.4" y="562.38" width="9.5" height="6.8" rx="3.2" ry="3.2" fill="url(#ex)"/>
<rect x="305.2" y="562.38" width="24.6" height="6.8" rx="3.2" ry="3.2" fill="url(#ex)"/>
<rect x="432.5" y="562.38" width="11" height="6.8" rx="3.2" ry="3.2" fill="url(#ex)"/>
<rect x="508.2" y="562.38" width="12.9" height="6.8" rx="3.2" ry="3.2" fill="url(#ex)"/>
<rect x="532.2" y="562.38" width="11" height="6.8" rx="3.2" ry="3.2" fill="url(#ex)"/>
<rect x="550.8" y="562.38" width="19.1" height="6.8" rx="3.2" ry="3.2" fill="url(#ex)"/>
<rect x="578.4" y="562.38" width="20.2" height="6.8" rx="3.2" ry="3.2" fill="url(#ex)"/>
<rect x="648.9" y="562.38" width="16.6" height="6.8" rx="3.2" ry="3.2" fill="url(#ex)"/>
<text x="145.9" y="569.38" class="lab">Tg7486</text>
<line x1="202.6" y1="579.62" x2="363.1" y2="579.62" class="in"/>
<rect x="201.1" y="576.22" width="7" height="6.8" rx="3.2" ry="3.2" fill="url(#ex)"/>
<rect x="251.9" y="576.22" width="13" height="6.8" rx="3.2" ry="3.2" fill="url(#ex)"/>
<rect x="273.5" y="576.22" width="10.6" height="6.8" rx="3.2" ry="3.2" fill="url(#ex)"/>
<rect x="292.1" y="576.22" width="19.6" height="6.8" rx="3.2" ry="3.2" fill="url(#ex)"/>
<rect x="321.8" y="576.22" width="20.1" height="6.8" rx="3.2" ry="3.2" fill="url(#ex)"/>
<rect x="349.5" y="576.22" width="15.1" height="6.8" rx="3.2" ry="3.2" fill="url(#ex)"/>
<text x="145.9" y="583.22" class="lab">Tg38222</text>
<line x1="202.6" y1="593.46" x2="663.4" y2="593.46" class="in"/>
<rect x="201.1" y="590.06" width="12" height="6.8" rx="3.2" ry="3.2" fill="url(#ex)"/>
<rect x="225.7" y="590.06" width="7.6" height="6.8" rx="3.2" ry="3.2" fill="url(#ex)"/>
<rect x="241.8" y="590.06" width="9.6" height="6.8" rx="3.2" ry="3.2" fill="url(#ex)"/>
<rect x="309.2" y="590.06" width="24.7" height="6.8" rx="3.2" ry="3.2" fill="url(#ex)"/>
<rect x="480.3" y="590.06" width="11" height="6.8" rx="3.2" ry="3.2" fill="url(#ex)"/>
<rect x="513" y="590.06" width="13.1" height="6.8" rx="3.2" ry="3.2" fill="url(#ex)"/>
<rect x="551.3" y="590.06" width="11" height="6.8" rx="3.2" ry="3.2" fill="url(#ex)"/>
<rect x="570.4" y="590.06" width="19.1" height="6.8" rx="3.2" ry="3.2" fill="url(#ex)"/>
<rect x="599.1" y="590.06" width="19.6" height="6.8" rx="3.2" ry="3.2" fill="url(#ex)"/>
<rect x="624.7" y="590.06" width="4.5" height="6.8" rx="2.25" ry="3.2" fill="url(#ex)"/>
<rect x="643.8" y="590.06" width="21.1" height="6.8" rx="3.2" ry="3.2" fill="url(#ex)"/>
<text x="145.9" y="597.06" class="lab">Tg26144</text>
<line x1="202.6" y1="607.3" x2="389.2" y2="607.3" class="in"/>
<rect x="201.1" y="603.9" width="14.1" height="6.8" rx="3.2" ry="3.2" fill="url(#ex)"/>
<rect x="239.3" y="603.9" width="13.1" height="6.8" rx="3.2" ry="3.2" fill="url(#ex)"/>
<rect x="278" y="603.9" width="11.1" height="6.8" rx="3.2" ry="3.2" fill="url(#ex)"/>
<rect x="297.1" y="603.9" width="18.7" height="6.8" rx="3.2" ry="3.2" fill="url(#ex)"/>
<rect x="325.3" y="603.9" width="7.1" height="6.8" rx="3.2" ry="3.2" fill="url(#ex)"/>
<rect x="348.5" y="603.9" width="6.5" height="6.8" rx="3.2" ry="3.2" fill="url(#ex)"/>
<rect x="370.1" y="603.9" width="20.6" height="6.8" rx="3.2" ry="3.2" fill="url(#ex)"/>
<text x="145.9" y="610.9" class="lab">Tg29480</text>
<line x1="202.6" y1="621.14" x2="484.8" y2="621.14" class="in"/>
<rect x="201.1" y="617.74" width="54.8" height="6.8" rx="3.2" ry="3.2" fill="url(#ex)"/>
<rect x="262.9" y="617.74" width="11.1" height="6.8" rx="3.2" ry="3.2" fill="url(#ex)"/>
<rect x="284.6" y="617.74" width="29.6" height="6.8" rx="3.2" ry="3.2" fill="url(#ex)"/>
<rect x="341.9" y="617.74" width="28.2" height="6.8" rx="3.2" ry="3.2" fill="url(#ex)"/>
<rect x="378.6" y="617.74" width="10.6" height="6.8" rx="3.2" ry="3.2" fill="url(#ex)"/>
<rect x="401.8" y="617.74" width="60.3" height="6.8" rx="3.2" ry="3.2" fill="url(#ex)"/>
<rect x="472.2" y="617.74" width="14.1" height="6.8" rx="3.2" ry="3.2" fill="url(#ex)"/>
<text x="145.9" y="624.74" class="lab">Tg23261</text>
<line x1="202.6" y1="634.98" x2="418.4" y2="634.98" class="in"/>
<rect x="201.1" y="631.58" width="61.8" height="6.8" rx="3.2" ry="3.2" fill="url(#ex)"/>
<rect x="270.5" y="631.58" width="29.7" height="6.8" rx="3.2" ry="3.2" fill="url(#ex)"/>
<rect x="309.7" y="631.58" width="38.8" height="6.8" rx="3.2" ry="3.2" fill="url(#ex)"/>
<rect x="358" y="631.58" width="61.9" height="6.8" rx="3.2" ry="3.2" fill="url(#ex)"/>
<text x="145.9" y="638.58" class="lab">Tg25765</text>
<line x1="202.6" y1="648.82" x2="490.3" y2="648.82" class="in"/>
<rect x="201.1" y="645.42" width="69.9" height="6.8" rx="3.2" ry="3.2" fill="url(#ex)"/>
<rect x="306.2" y="645.42" width="30.2" height="6.8" rx="3.2" ry="3.2" fill="url(#ex)"/>
<rect x="345.9" y="645.42" width="27.7" height="6.8" rx="3.2" ry="3.2" fill="url(#ex)"/>
<rect x="410.3" y="645.42" width="11.1" height="6.8" rx="3.2" ry="3.2" fill="url(#ex)"/>
<rect x="430" y="645.42" width="61.8" height="6.8" rx="3.2" ry="3.2" fill="url(#ex)"/>
<text x="145.9" y="652.42" class="lab">Tg16945</text>
<line x1="195.3" y1="423.9" x2="659.4" y2="423.9" class="ax"/>
<line x1="195.3" y1="420.9" x2="195.3" y2="423.9" class="ax"/>
<text x="192.3" y="431.2" class="tick">0kb</text>
<line x1="236.39" y1="420.9" x2="236.39" y2="423.9" class="ax"/>
<text x="233.39" y="431.2" class="tick">1kb</text>
<line x1="277.48" y1="420.9" x2="277.48" y2="423.9" class="ax"/>
<text x="274.48" y="431.2" class="tick">2kb</text>
<line x1="318.57" y1="420.9" x2="318.57" y2="423.9" class="ax"/>
<text x="315.57" y="431.2" class="tick">3kb</text>
<line x1="359.66" y1="420.9" x2="359.66" y2="423.9" class="ax"/>
<text x="356.66" y="431.2" class="tick">4kb</text>
<line x1="400.75" y1="420.9" x2="400.75" y2="423.9" class="ax"/>
<text x="397.75" y="431.2" class="tick">5kb</text>
<line x1="441.84" y1="420.9" x2="441.84" y2="423.9" class="ax"/>
<text x="438.84" y="431.2" class="tick">6kb</text>
<line x1="482.93" y1="420.9" x2="482.93" y2="423.9" class="ax"/>
<text x="479.93" y="431.2" class="tick">7kb</text>
<line x1="524.02" y1="420.9" x2="524.02" y2="423.9" class="ax"/>
<text x="521.02" y="431.2" class="tick">8kb</text>
<line x1="565.11" y1="420.9" x2="565.11" y2="423.9" class="ax"/>
<text x="562.11" y="431.2" class="tick">9kb</text>
<line x1="606.2" y1="420.9" x2="606.2" y2="423.9" class="ax"/>
<text x="603.2" y="431.2" class="tick">10kb</text>
<line x1="647.29" y1="420.9" x2="647.29" y2="423.9" class="ax"/>
<text x="644.29" y="431.2" class="tick">11kb</text>
<text x="186.3" y="421" class="prime">5'</text>
<text x="663.4" y="420.6" class="prime">3'</text>
<line x1="201.1" y1="661.9" x2="665" y2="661.9" class="ax"/>
<line x1="201.1" y1="658.9" x2="201.1" y2="661.9" class="ax"/>
<text x="197.8" y="669.8" class="tickb">0bp</text>
<line x1="249.38" y1="658.9" x2="249.38" y2="661.9" class="ax"/>
<text x="246.08" y="669.8" class="tickb">500bp</text>
<line x1="297.66" y1="658.9" x2="297.66" y2="661.9" class="ax"/>
<text x="294.36" y="669.8" class="tickb">1000bp</text>
<line x1="345.94" y1="658.9" x2="345.94" y2="661.9" class="ax"/>
<text x="342.64" y="669.8" class="tickb">1500bp</text>
<line x1="394.22" y1="658.9" x2="394.22" y2="661.9" class="ax"/>
<text x="390.92" y="669.8" class="tickb">2000bp</text>
<line x1="442.5" y1="658.9" x2="442.5" y2="661.9" class="ax"/>
<text x="439.2" y="669.8" class="tickb">2500bp</text>
<line x1="490.78" y1="658.9" x2="490.78" y2="661.9" class="ax"/>
<text x="487.48" y="669.8" class="tickb">3000bp</text>
<line x1="539.06" y1="658.9" x2="539.06" y2="661.9" class="ax"/>
<text x="535.76" y="669.8" class="tickb">3500bp</text>
<line x1="587.34" y1="658.9" x2="587.34" y2="661.9" class="ax"/>
<text x="584.04" y="669.8" class="tickb">4000bp</text>
<line x1="635.62" y1="658.9" x2="635.62" y2="661.9" class="ax"/>
<text x="632.32" y="669.8" class="tickb">4500bp</text>
<text x="192.3" y="659" class="prime">5'</text>
<text x="669.3" y="659" class="prime">3'</text>
<text transform="translate(10.6 115.2) scale(0.88 1)" class="clade">CesA</text>
<text transform="translate(30.1 233.1) scale(0.86 1)" class="clade">CslD</text>
<text transform="translate(25.5 300.9) scale(0.90 1)" class="clade">CslM</text>
<text transform="translate(30.2 354.2) scale(0.84 1)" class="clade">CslG</text>
<text transform="translate(15.0 407.9) scale(0.80 1)" class="clade">CslE</text>
<text transform="translate(10.7 579.2) scale(0.85 1)" class="clade">CslA</text>
<text transform="translate(12.2 636.7) scale(0.82 1)" class="clade">CslC</text>
<text x="140.8" y="448.4" class="leg">Legend:</text>
<rect x="140.9" y="456.2" width="13.7" height="6.2" rx="3" fill="url(#ex)"/>
<text x="157.7" y="462.6" class="legi">CDS</text>
<rect x="189.2" y="458" width="13" height="4" rx="0.6" fill="url(#bl)"/>
<text x="206.5" y="462.6" class="legi">upstream/ downstream</text>
<line x1="299.9" y1="459.3" x2="313.9" y2="459.3" class="in"/>
<text x="317.8" y="462.6" class="legi">Intron</text>
<text x="350" y="500.3" class="panel">a</text>
<text x="146.4" y="687" class="leg">Legend:</text>
<rect x="146.4" y="695.1" width="13.8" height="5.7" rx="2.8" fill="url(#ex)"/>
<text x="164" y="701.1" class="legi">Exon</text>
<line x1="195.2" y1="697" x2="208.6" y2="697" class="in"/>
<text x="212.3" y="701.1" class="legi">Intron</text>
<text x="359" y="711.8" class="panelb">b</text>
</svg>
</body></html>
